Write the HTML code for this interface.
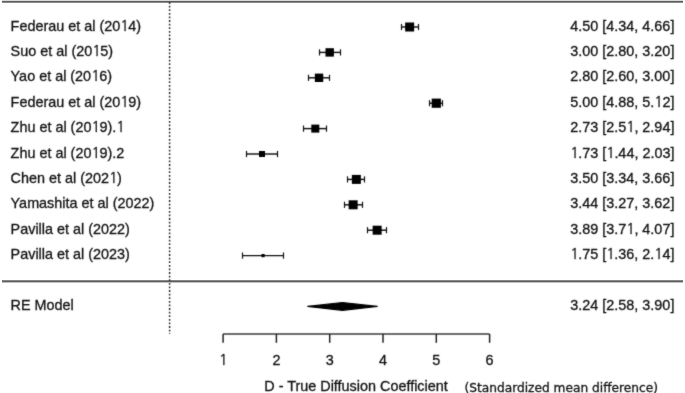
<!DOCTYPE html>
<html><head><meta charset="utf-8"><style>
html,body{margin:0;padding:0;background:#fff;}
svg{display:block;}
text{font-family:"Liberation Sans",sans-serif;font-size:14.4px;fill:#111;stroke:#111;stroke-width:0.3px;}
.one{font-family:"NanumGothic",sans-serif;letter-spacing:-0.72px;}
text.sm{font-family:"DejaVu Sans",sans-serif;font-size:12.2px;}
.ci{stroke:#111;stroke-width:1.45;}
.cap{stroke:#111;stroke-width:1.2;}
.ax{stroke:#6c6c6c;stroke-width:2;}
.tk{stroke:#222;stroke-width:1.5;}
</style></head><body>
<svg width="685" height="393" viewBox="0 0 685 393">
<defs><filter id="soft" x="0" y="0" width="685" height="393" filterUnits="userSpaceOnUse" color-interpolation-filters="sRGB"><feConvolveMatrix order="3" kernelMatrix="0.02 0.08 0.02 0.08 0.60 0.08 0.02 0.08 0.02" edgeMode="duplicate"/></filter></defs>
<rect x="2" y="0" width="681" height="1" fill="#dadada"/>
<rect x="2" y="1" width="681" height="1" fill="#5e5e5e"/>
<rect x="2" y="2" width="681" height="1" fill="#8a8a8a"/>
<rect x="2" y="280" width="681" height="1" fill="#868686"/>
<rect x="2" y="281" width="681" height="1" fill="#5e5e5e"/>
<rect x="2" y="282" width="681" height="1" fill="#c0c0c0"/>
<g filter="url(#soft)">
<text x="10.6" y="31.00">Federau et al (20<tspan class="one">1</tspan>4)</text>
<text x="674.4" y="31.00" text-anchor="end">4.50 [4.34, 4.66]</text>
<line x1="401.12" y1="27.00" x2="418.18" y2="27.00" class="ci"/>
<line x1="401.50" y1="23.90" x2="401.50" y2="30.10" class="cap"/>
<line x1="418.50" y1="23.90" x2="418.50" y2="30.10" class="cap"/>
<rect x="405.15" y="22.50" width="9.0" height="9.0" fill="#000"/>
<text x="10.6" y="56.00">Suo et al (20<tspan class="one">1</tspan>5)</text>
<text x="674.4" y="56.00" text-anchor="end">3.00 [2.80, 3.20]</text>
<line x1="319.04" y1="52.40" x2="340.36" y2="52.40" class="ci"/>
<line x1="319.50" y1="49.30" x2="319.50" y2="55.50" class="cap"/>
<line x1="340.50" y1="49.30" x2="340.50" y2="55.50" class="cap"/>
<rect x="325.50" y="48.20" width="8.4" height="8.4" fill="#000"/>
<text x="10.6" y="81.00">Yao et al (20<tspan class="one">1</tspan>6)</text>
<text x="674.4" y="81.00" text-anchor="end">2.80 [2.60, 3.00]</text>
<line x1="308.38" y1="77.80" x2="329.70" y2="77.80" class="ci"/>
<line x1="308.50" y1="74.70" x2="308.50" y2="80.90" class="cap"/>
<line x1="329.50" y1="74.70" x2="329.50" y2="80.90" class="cap"/>
<rect x="314.84" y="73.60" width="8.4" height="8.4" fill="#000"/>
<text x="10.6" y="107.00">Federau et al (20<tspan class="one">1</tspan>9)</text>
<text x="674.4" y="107.00" text-anchor="end">5.00 [4.88, 5.<tspan class="one">1</tspan>2]</text>
<line x1="429.90" y1="103.20" x2="442.70" y2="103.20" class="ci"/>
<line x1="429.50" y1="100.10" x2="429.50" y2="106.30" class="cap"/>
<line x1="442.50" y1="100.10" x2="442.50" y2="106.30" class="cap"/>
<rect x="431.70" y="98.60" width="9.2" height="9.2" fill="#000"/>
<text x="10.6" y="132.00">Zhu et al (20<tspan class="one">1</tspan>9).<tspan class="one">1</tspan></text>
<text x="674.4" y="132.00" text-anchor="end">2.73 [2.5<tspan class="one">1</tspan>, 2.94]</text>
<line x1="303.58" y1="128.60" x2="326.50" y2="128.60" class="ci"/>
<line x1="303.50" y1="125.50" x2="303.50" y2="131.70" class="cap"/>
<line x1="326.50" y1="125.50" x2="326.50" y2="131.70" class="cap"/>
<rect x="311.31" y="124.60" width="8.0" height="8.0" fill="#000"/>
<text x="10.6" y="158.00">Zhu et al (20<tspan class="one">1</tspan>9).2</text>
<text x="674.4" y="158.00" text-anchor="end"><tspan class="one">1</tspan>.73 [<tspan class="one">1</tspan>.44, 2.03]</text>
<line x1="246.55" y1="154.00" x2="278.00" y2="154.00" class="ci"/>
<line x1="246.50" y1="150.90" x2="246.50" y2="157.10" class="cap"/>
<line x1="277.50" y1="150.90" x2="277.50" y2="157.10" class="cap"/>
<rect x="259.01" y="151.00" width="6.0" height="6.0" fill="#000"/>
<text x="10.6" y="183.00">Chen et al (202<tspan class="one">1</tspan>)</text>
<text x="674.4" y="183.00" text-anchor="end">3.50 [3.34, 3.66]</text>
<line x1="347.82" y1="179.40" x2="364.88" y2="179.40" class="ci"/>
<line x1="347.50" y1="176.30" x2="347.50" y2="182.50" class="cap"/>
<line x1="364.50" y1="176.30" x2="364.50" y2="182.50" class="cap"/>
<rect x="351.85" y="174.90" width="9.0" height="9.0" fill="#000"/>
<text x="10.6" y="208.00">Yamashita et al (2022)</text>
<text x="674.4" y="208.00" text-anchor="end">3.44 [3.27, 3.62]</text>
<line x1="344.09" y1="204.80" x2="362.75" y2="204.80" class="ci"/>
<line x1="344.50" y1="201.70" x2="344.50" y2="207.90" class="cap"/>
<line x1="362.50" y1="201.70" x2="362.50" y2="207.90" class="cap"/>
<rect x="348.65" y="200.30" width="9.0" height="9.0" fill="#000"/>
<text x="10.6" y="234.00">Pavilla et al (2022)</text>
<text x="674.4" y="234.00" text-anchor="end">3.89 [3.7<tspan class="one">1</tspan>, 4.07]</text>
<line x1="367.54" y1="230.20" x2="386.73" y2="230.20" class="ci"/>
<line x1="367.50" y1="227.10" x2="367.50" y2="233.30" class="cap"/>
<line x1="386.50" y1="227.10" x2="386.50" y2="233.30" class="cap"/>
<rect x="372.64" y="225.70" width="9.0" height="9.0" fill="#000"/>
<text x="10.6" y="259.00">Pavilla et al (2023)</text>
<text x="674.4" y="259.00" text-anchor="end"><tspan class="one">1</tspan>.75 [<tspan class="one">1</tspan>.36, 2.<tspan class="one">1</tspan>4]</text>
<line x1="242.29" y1="255.60" x2="283.86" y2="255.60" class="ci"/>
<line x1="242.50" y1="252.50" x2="242.50" y2="258.70" class="cap"/>
<line x1="283.50" y1="252.50" x2="283.50" y2="258.70" class="cap"/>
<rect x="261.47" y="254.00" width="3.2" height="3.2" fill="#000"/>
<text x="10.6" y="310.00">RE Model</text>
<text x="674.4" y="310.00" text-anchor="end">3.24 [2.58, 3.90]</text>
<polygon points="307.71,306.40 342.49,302.50 377.27,306.40 342.49,310.30" fill="#000" stroke="#000" stroke-width="1.2" stroke-linejoin="round"/>
<line x1="223.10" y1="334.0" x2="489.60" y2="334.0" class="ax"/>
<line x1="223.10" y1="334.0" x2="223.10" y2="342.8" class="tk"/>
<text x="223.10" y="364.9" text-anchor="middle"><tspan class="one">1</tspan></text>
<line x1="276.40" y1="334.0" x2="276.40" y2="342.8" class="tk"/>
<text x="276.40" y="364.9" text-anchor="middle">2</text>
<line x1="329.70" y1="334.0" x2="329.70" y2="342.8" class="tk"/>
<text x="329.70" y="364.9" text-anchor="middle">3</text>
<line x1="383.00" y1="334.0" x2="383.00" y2="342.8" class="tk"/>
<text x="383.00" y="364.9" text-anchor="middle">4</text>
<line x1="436.30" y1="334.0" x2="436.30" y2="342.8" class="tk"/>
<text x="436.30" y="364.9" text-anchor="middle">5</text>
<line x1="489.60" y1="334.0" x2="489.60" y2="342.8" class="tk"/>
<text x="489.60" y="364.9" text-anchor="middle">6</text>
<text x="264.3" y="391">D - True Diffusion Coefficient</text>
<text x="464.5" y="392" class="sm">(Standardized mean difference)</text>
<line x1="169.6" y1="2.1" x2="169.6" y2="334" stroke="#2a2a2a" stroke-width="1.5" stroke-dasharray="1.8 1.8"/>
</g>
</svg>
</body></html>
